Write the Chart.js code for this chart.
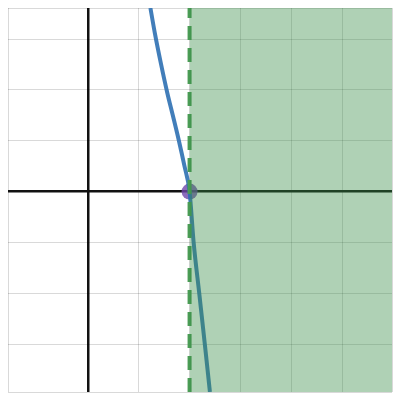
<!DOCTYPE html><html><head><script src="https://cdn.jsdelivr.net/npm/chart.js"></script>
<style>html,body{margin:0;padding:0;background:#fff}#w{width:400px;height:400px}</style></head><body><div id="w"><canvas id="c"></canvas></div>
<script>
const curveX=[1.23,1.32,1.44,1.56,1.67,1.79,1.9,2,2.08,2.19,2.3,2.4];
const curveY=[3.61,3.1,2.5,1.95,1.5,1,0.5,0,-1,-2,-3,-3.94];
const boundaryX=2;
const xMin=-1.57,xMax=5.98,yMin=-3.94,yMax=3.61;
const grid={color:c=>c.tick.value===0?'#111':'rgba(0,0,0,0.15)',lineWidth:c=>c.tick.value===0?2.5:1,drawTicks:false};
new Chart(document.getElementById('c'),{type:'scatter',data:{datasets:[
{data:[{x:boundaryX,y:yMax},{x:xMax,y:yMax}],showLine:true,pointRadius:0,borderWidth:0,fill:{value:yMin},backgroundColor:'rgba(56,140,70,0.4)'},
{data:[{x:boundaryX,y:yMin},{x:boundaryX,y:yMax}],showLine:true,pointRadius:0,borderColor:'#4a9c55',borderWidth:4,borderDash:[14,8]},
{data:curveX.map((x,i)=>({x,y:curveY[i]})),showLine:true,pointRadius:0,borderColor:'rgba(45,112,179,0.9)',borderWidth:4,cubicInterpolationMode:'monotone'},
{data:[{x:boundaryX,y:0}],pointRadius:8,backgroundColor:'rgba(110,70,170,0.8)',borderWidth:0}
]},options:{animation:false,responsive:true,maintainAspectRatio:false,layout:{padding:0},
plugins:{legend:{display:false},tooltip:{enabled:false}},
scales:{x:{type:'linear',min:xMin,max:xMax,ticks:{display:false,stepSize:1,padding:0},grid:grid,border:{display:false}},
y:{type:'linear',min:yMin,max:yMax,ticks:{display:false,stepSize:1,padding:0},grid:grid,border:{display:false}}}}});
</script></body></html>
